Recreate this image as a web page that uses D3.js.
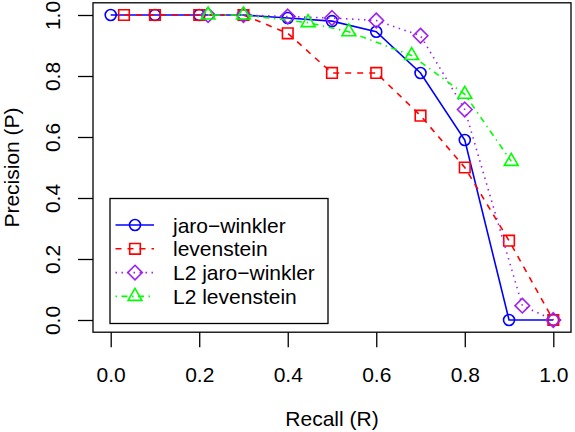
<!DOCTYPE html>
<html>
    <head>
        <script src="https://d3js.org/d3.v7.min.js"></script>
        <style>
            body { margin: 0; background: #fff; }
            text { font-family: "Liberation Sans", Arial, sans-serif; fill: #000; }
            .axis line { stroke: #000; stroke-width: 1.3px; }
        </style>
    </head>
    <body>
    <script>
        var w = 575;
        var h = 432;
        var fontSize = '21px';

        // recall / precision per method
        var jwRecall = [0, 0.1, 0.2, 0.3, 0.4, 0.5, 0.6, 0.7, 0.8, 0.9, 1.0];
        var jwPrecision = [1, 1, 1, 1, 0.99, 0.98, 0.945, 0.81, 0.59, 0, 0];

        var levRecall = [0.03, 0.1, 0.2, 0.3, 0.4, 0.5, 0.6, 0.7, 0.8, 0.9, 1.0];
        var levPrecision = [1, 1, 1, 1, 0.94, 0.81, 0.81, 0.67, 0.50, 0.26, 0];

        var l2jwRecall = [0.22, 0.3, 0.4, 0.5, 0.6, 0.7, 0.8, 0.93, 1.0];
        var l2jwPrecision = [1, 1, 0.995, 0.99, 0.982, 0.932, 0.69, 0.047, 0];

        var l2levRecall = [0.22, 0.3, 0.446, 0.538, 0.68, 0.80, 0.905];
        var l2levPrecision = [1, 1, 0.975, 0.945, 0.867, 0.74, 0.52];

        var seriesNames = ['jaro\u2212winkler', 'levenstein', 'L2 jaro\u2212winkler', 'L2 levenstein'];
        var xTicks = [0, 0.2, 0.4, 0.6, 0.8, 1.0];
        var yTicks = [0, 0.2, 0.4, 0.6, 0.8, 1.0];

        function zip(xs, ys) {
            return xs.map(function (x, i) { return { x: x, y: ys[i] } })
        }

        var series = [
            { name: seriesNames[0], data: zip(jwRecall, jwPrecision), color: '#0000ff', dash: null, shape: 'circle' },
            { name: seriesNames[1], data: zip(levRecall, levPrecision), color: '#ff0000', dash: '6,6', shape: 'square' },
            { name: seriesNames[2], data: zip(l2jwRecall, l2jwPrecision), color: '#a020f0', dash: '1.5,4.5', shape: 'diamond' },
            { name: seriesNames[3], data: zip(l2levRecall, l2levPrecision), color: '#00ff00', dash: '1.5,4.5,6,4.5', shape: 'triangle' }
        ];

        function shapePath(shape) {
            if (shape === 'circle') return d3.arc()({ innerRadius: 0, outerRadius: 5.5, startAngle: 0, endAngle: 2 * Math.PI });
            if (shape === 'square') return 'M-5.3,-5.3H5.3V5.3H-5.3Z';
            if (shape === 'diamond') return 'M0,-7.3L7.3,0L0,7.3L-7.3,0Z';
            var r = 8;
            return 'M0,' + (-r) + 'L' + (r * 0.866) + ',' + (r / 2) + 'L' + (-r * 0.866) + ',' + (r / 2) + 'Z';
        }

        var xScale = d3.scaleLinear().domain([-0.04, 1.04]).range([93, 571]);
        var yScale = d3.scaleLinear().domain([-0.04, 1.04]).range([332.2, 2.8]);

        var svg = d3.select('body').append('svg')
            .attr('width', w)
            .attr('height', h);

        var xAxisGen = d3.axisBottom(xScale).tickValues(xTicks).tickSize(15).tickFormat(d3.format('.1f'));
        var yAxisGen = d3.axisLeft(yScale).tickValues(yTicks).tickSize(15).tickFormat(d3.format('.1f'));

        var gx = svg.append('g').attr('class', 'axis')
            .attr('transform', 'translate(0,' + yScale.range()[0] + ')')
            .call(xAxisGen);
        gx.select('.domain').remove();
        gx.selectAll('text')
            .attr('y', 50).attr('dy', 0)
            .style('font-size', fontSize)
            .attr('fill', '#000');

        var gy = svg.append('g').attr('class', 'axis')
            .attr('transform', 'translate(' + xScale.range()[0] + ',0)')
            .call(yAxisGen);
        gy.select('.domain').remove();
        gy.selectAll('text')
            .attr('x', 0).attr('dy', 0)
            .attr('transform', 'translate(-33,0) rotate(-90)')
            .attr('text-anchor', 'middle')
            .style('font-size', fontSize)
            .attr('fill', '#000');

        // plot frame
        svg.append('rect')
            .attr('x', xScale.range()[0])
            .attr('y', yScale.range()[1])
            .attr('width', xScale.range()[1] - xScale.range()[0])
            .attr('height', yScale.range()[0] - yScale.range()[1])
            .attr('fill', 'none')
            .attr('stroke', '#000')
            .attr('stroke-width', 1.3);

        svg.append('text')
            .attr('x', (xScale.range()[0] + xScale.range()[1]) / 2)
            .attr('y', 426)
            .attr('text-anchor', 'middle')
            .style('font-size', fontSize)
            .text('Recall (R)');

        svg.append('text')
            .attr('transform', 'translate(19,' + ((yScale.range()[0] + yScale.range()[1]) / 2) + ') rotate(-90)')
            .attr('text-anchor', 'middle')
            .style('font-size', fontSize)
            .text('Precision (P)');

        var lineFunc = d3.line()
            .x(function (d) { return xScale(d.x) })
            .y(function (d) { return yScale(d.y) });

        series.forEach(function (s) {
            svg.append('path')
                .attr('d', lineFunc(s.data))
                .attr('fill', 'none')
                .attr('stroke', s.color)
                .attr('stroke-width', 1.6)
                .attr('stroke-dasharray', s.dash);

            svg.append('g').selectAll('path')
                .data(s.data)
                .join('path')
                .attr('d', shapePath(s.shape))
                .attr('transform', function (d) { return 'translate(' + xScale(d.x) + ',' + yScale(d.y) + ')' })
                .attr('fill', 'none')
                .attr('stroke', s.color)
                .attr('stroke-width', 1.6);
        });

        // legend
        var legend = svg.append('g');
        legend.append('rect')
            .attr('x', 110).attr('y', 198.5)
            .attr('width', 218).attr('height', 125)
            .attr('fill', '#fff')
            .attr('stroke', '#000')
            .attr('stroke-width', 1.3);

        var rows = legend.selectAll('g.row')
            .data(series)
            .join('g')
            .attr('class', 'row')
            .attr('transform', function (d, i) { return 'translate(0,' + (225 + i * 23.8) + ')' });

        rows.append('line')
            .attr('x1', 115.5).attr('x2', 154)
            .attr('stroke', function (d) { return d.color })
            .attr('stroke-width', 1.6)
            .attr('stroke-dasharray', function (d) { return d.dash });
        rows.append('path')
            .attr('d', function (d) { return shapePath(d.shape) })
            .attr('transform', 'translate(135,0)')
            .attr('fill', 'none')
            .attr('stroke', function (d) { return d.color })
            .attr('stroke-width', 1.6);
        rows.append('text')
            .attr('x', 173).attr('y', 7.5)
            .style('font-size', fontSize)
            .text(function (d) { return d.name });
    </script>
    </body>
</html>
